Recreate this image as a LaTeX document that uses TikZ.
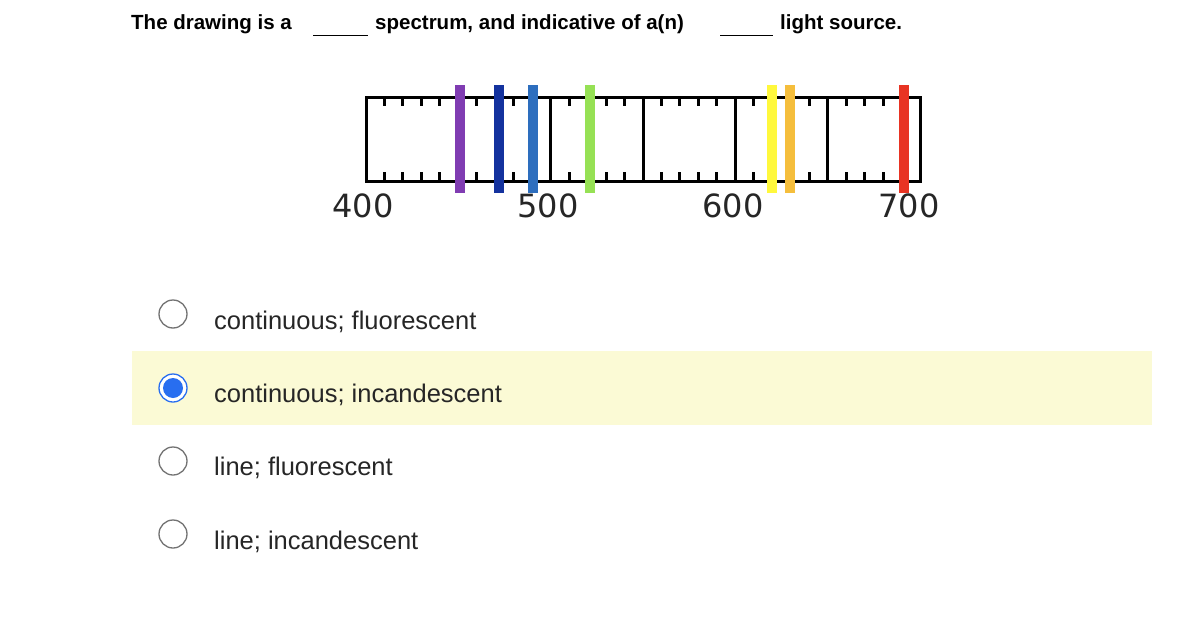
\documentclass[tikz,border=0pt]{standalone}
\usepackage{fontspec}
\setmainfont{Liberation Sans}
\newfontfamily\numfont{DejaVu Sans}
\definecolor{cpurple}{RGB}{128,60,178}
\definecolor{cdblue}{RGB}{20,50,158}
\definecolor{cblue}{RGB}{45,110,190}
\definecolor{cgreen}{RGB}{150,225,85}
\definecolor{cyellow}{RGB}{255,248,60}
\definecolor{corange}{RGB}{245,190,60}
\definecolor{cred}{RGB}{232,52,35}
\definecolor{hl}{RGB}{251,250,213}
\definecolor{rblue}{RGB}{40,110,240}
\begin{document}
\begin{tikzpicture}[x=1pt,y=-1pt,
  qtext/.style={anchor=west,inner sep=0pt,font=\fontsize{20.5}{24}\selectfont\bfseries},
  opt/.style={anchor=west,inner sep=0pt,font=\fontsize{25.5}{30}\selectfont,text=black!85},
  radio/.style={circle,draw=black!55,line width=1.3pt,minimum size=28pt,inner sep=0pt},
  nm/.style={inner sep=0pt,font=\numfont\fontsize{32}{36}\selectfont,text=black!85},
  sline/.style={line width=10pt},
  tick/.style={line width=3pt}]
\useasboundingbox (0,0) rectangle (1204,618);
\fill[white] (0,0) rectangle (1204,618);
% question
\node[qtext] (q1) at (131,24) {The drawing is a};
\draw[line width=0.8pt] (313,35) coordinate (b1a) -- (368,35) coordinate (b1b);
\node[qtext] (q2) at (375,24) {spectrum, and indicative of a(n)};
\draw[line width=0.8pt] (720,35) coordinate (b2a) -- (773,35) coordinate (b2b);
\node[qtext] (q3) at (780,24) {light source.};
% spectrum box
\draw[line width=3pt] (366,97) rectangle (920,181);
\foreach \k in {0,...,30}{
  \pgfmathsetmacro{\xx}{366+\k*18.47}
  \pgfmathtruncatemacro{\r}{mod(\k,5)}
  \ifnum\r=0
    \draw[tick] (\xx,97) -- (\xx,181);
  \else
    \draw[tick] (\xx,97) -- (\xx,106);
    \draw[tick] (\xx,181) -- (\xx,172);
  \fi
}
\foreach \xx/\c in {460/cpurple,499/cdblue,533/cblue,590/cgreen,772/cyellow,790/corange,904/cred}
  \draw[sline,color=\c] (\xx,85) -- (\xx,193);
\node[nm] (n400) at (363,206) {400};
\node[nm] (n500) at (548,206) {500};
\node[nm] (n600) at (733,206) {600};
\node[nm] (n700) at (909,206) {700};
% options
\fill[hl] (132,351) rectangle (1152,425);
\node[radio] (r1) at (173,314) {};
\node[opt] (o1) at (214,322) {continuous; fluorescent};
\node[radio,draw=rblue,fill=white] (r2) at (173,388) {};
\fill[rblue] (r2.center) circle (10);
\node[opt] (o2) at (214,395) {continuous; incandescent};
\node[radio] (r3) at (173,461) {};
\node[opt] (o3) at (214,468) {line; fluorescent};
\node[radio] (r4) at (173,534) {};
\node[opt] (o4) at (214,542) {line; incandescent};
\end{tikzpicture}
\end{document}
